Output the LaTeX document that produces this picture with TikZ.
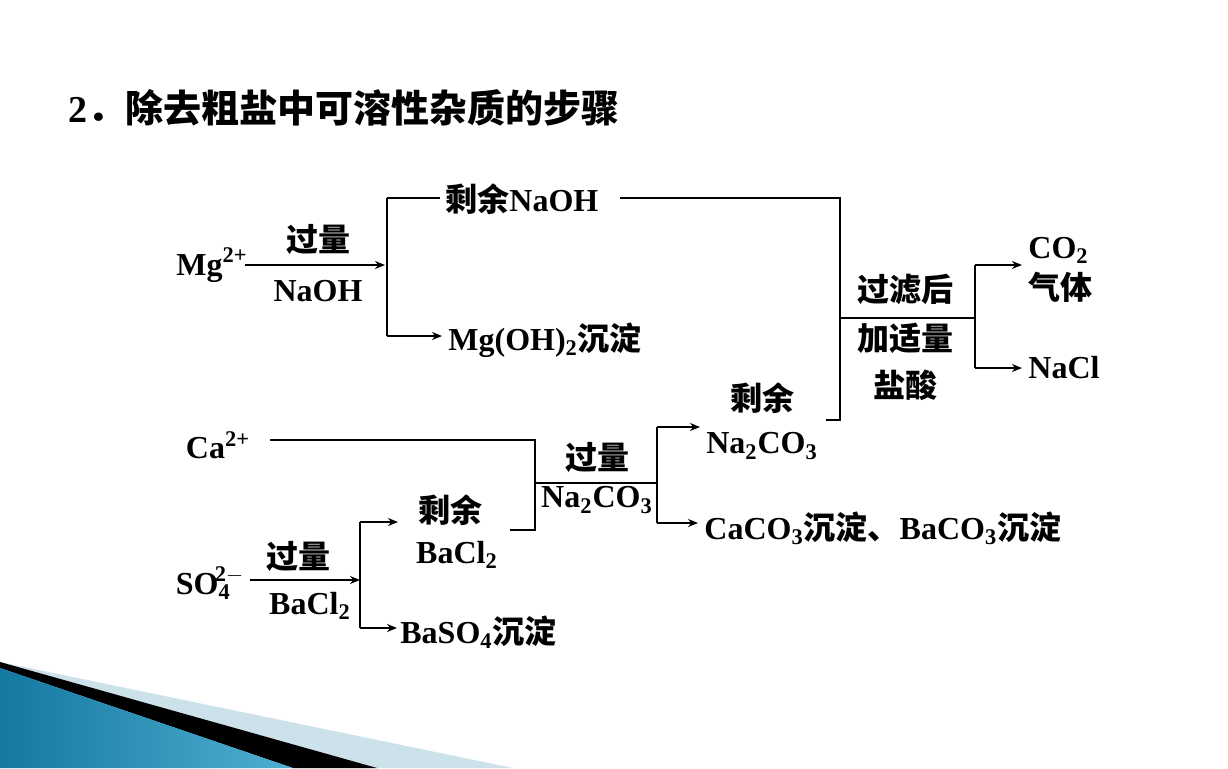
\documentclass[tikz,border=0pt]{standalone}
\usepackage{fontspec}
\setmainfont{Liberation Serif}
\newfontfamily\cjk{Noto Sans CJK SC}
\usetikzlibrary{arrows.meta}
\definecolor{deepblue}{RGB}{20,120,160}
\definecolor{skyblue}{RGB}{80,175,210}
\definecolor{paleblue}{RGB}{205,225,235}
\tikzset{
  lbl/.style  = {inner sep=0pt, font=\fontsize{16}{18}\selectfont\bfseries},
  flow/.style = {line width=0.8pt},
  arr/.style  = {flow, -{Stealth[length=5pt,width=4pt]}}
}
\newcommand{\zh}[1]{{\cjk\fontsize{16}{18}\selectfont #1}}
\newcommand{\sub}[1]{\textsubscript{#1}}
\newcommand{\chg}[1]{\textsuperscript{#1}}

\begin{document}
\begin{tikzpicture}[x=0.5pt,y=-0.5pt]
\useasboundingbox (0,0) rectangle (1228,768);

% decoration
\fill[paleblue] (0,662) -- (513,768) -- (0,768) -- cycle;
\fill[black] (0,662) -- (377,768) -- (293,768) -- (0,668) -- cycle;
\shade[left color=deepblue, right color=skyblue] (0,668) -- (293,768) -- (0,768) -- cycle;

% title
\node[lbl, anchor=west, font=\fontsize{19}{21}\selectfont\bfseries] (title) at (68,108) {2{\cjk\fontsize{19}{21}\selectfont ．除去粗盐中可溶性杂质的步骤}};

% --- Mg branch ---
\node[lbl] (mg) at (212,265) {Mg\chg{2+}};
\coordinate (mgA) at (245,265);
\coordinate (mgB) at (385,265);
\draw[arr] (mgA) -- (mgB);
\node[lbl] (mgq) at (318,240) {\zh{过量}};
\node[lbl] (mgn) at (318,291) {NaOH};
\coordinate (mgT) at (387,198);
\coordinate (mgD) at (387,336);
\draw[flow] (mgT) -- (mgD);
\node[lbl, anchor=west] (rnaoh) at (445,199) {\zh{剩余}NaOH};
\node[lbl, anchor=west] (mgoh) at (448,340) {Mg(OH)\sub{2}\zh{沉淀}};
\draw[flow] (mgT) -- (440,198);
\draw[arr] (mgD) -- (442,336);
\coordinate (rS) at (620,198);
\coordinate (rT) at (840,198);
\coordinate (rB) at (840,420);
\draw[flow] (rS) -- (rT) -- (rB) -- ++(-14,0);

% --- filtration / acid ---
\coordinate (fA) at (840,318);
\coordinate (fB) at (975,318);
\draw[flow] (fA) -- (fB);
\node[lbl] (f1) at (905,290) {\zh{过滤后}};
\node[lbl] (f2) at (905,338) {\zh{加适量}};
\node[lbl] (f3) at (905,385) {\zh{盐酸}};
\coordinate (fT) at (975,265);
\coordinate (fD) at (975,368);
\draw[flow] (fT) -- (fD);
\node[lbl, anchor=west] (co2) at (1028,250) {CO\sub{2}};
\node[lbl, anchor=west] (gas) at (1028,287) {\zh{气体}};
\node[lbl, anchor=west] (nacl) at (1028,368) {NaCl};
\draw[arr] (fT) -- (1022,265);
\draw[arr] (fD) -- (1022,368);

% --- Ca branch ---
\node[lbl] (ca) at (218,445) {Ca\chg{2+}};
\coordinate (caA) at (270,440);
\coordinate (caB) at (535,440);
\coordinate (caC) at (535,530);
\draw[flow] (caA) -- (caB) -- (caC) -- ++(-25,0);
\coordinate (cA) at (535,483);
\coordinate (cB) at (657,483);
\draw[flow] (cA) -- (cB);
\node[lbl] (cq) at (597,458) {\zh{过量}};
\node[lbl] (cn) at (597,500) {Na\sub{2}CO\sub{3}};
\coordinate (cT) at (657,427);
\coordinate (cD) at (657,523);
\draw[flow] (cT) -- (cD);
\node[lbl] (rna1) at (762,398) {\zh{剩余}};
\node[lbl] (rna2) at (762,446) {Na\sub{2}CO\sub{3}};
\node[lbl, anchor=west] (caco) at (704,528) {CaCO\sub{3}\zh{沉淀、}BaCO\sub{3}\zh{沉淀}};
\draw[arr] (cT) -- (700,427);
\draw[arr] (cD) -- (698,523);

% --- SO4 branch ---
\node[lbl] (so4) at (210,583) {SO\textsubscript{4}\kern-0.5em\chg{2$-$}};
\coordinate (sA) at (250,580);
\coordinate (sB) at (360,580);
\draw[arr] (sA) -- (sB);
\node[lbl] (sq) at (298,557) {\zh{过量}};
\node[lbl] (sb) at (310,606) {BaCl\sub{2}};
\coordinate (sT) at (360,522);
\coordinate (sD) at (360,628);
\draw[flow] (sT) -- (sD);
\node[lbl] (rba1) at (450,510) {\zh{剩余}};
\node[lbl] (rba2) at (457,555) {BaCl\sub{2}};
\node[lbl, anchor=west] (baso) at (400,632) {BaSO\sub{4}\zh{沉淀}};
\draw[arr] (sT) -- (398,522);
\draw[arr] (sD) -- (397,628);

\end{tikzpicture}
\end{document}
